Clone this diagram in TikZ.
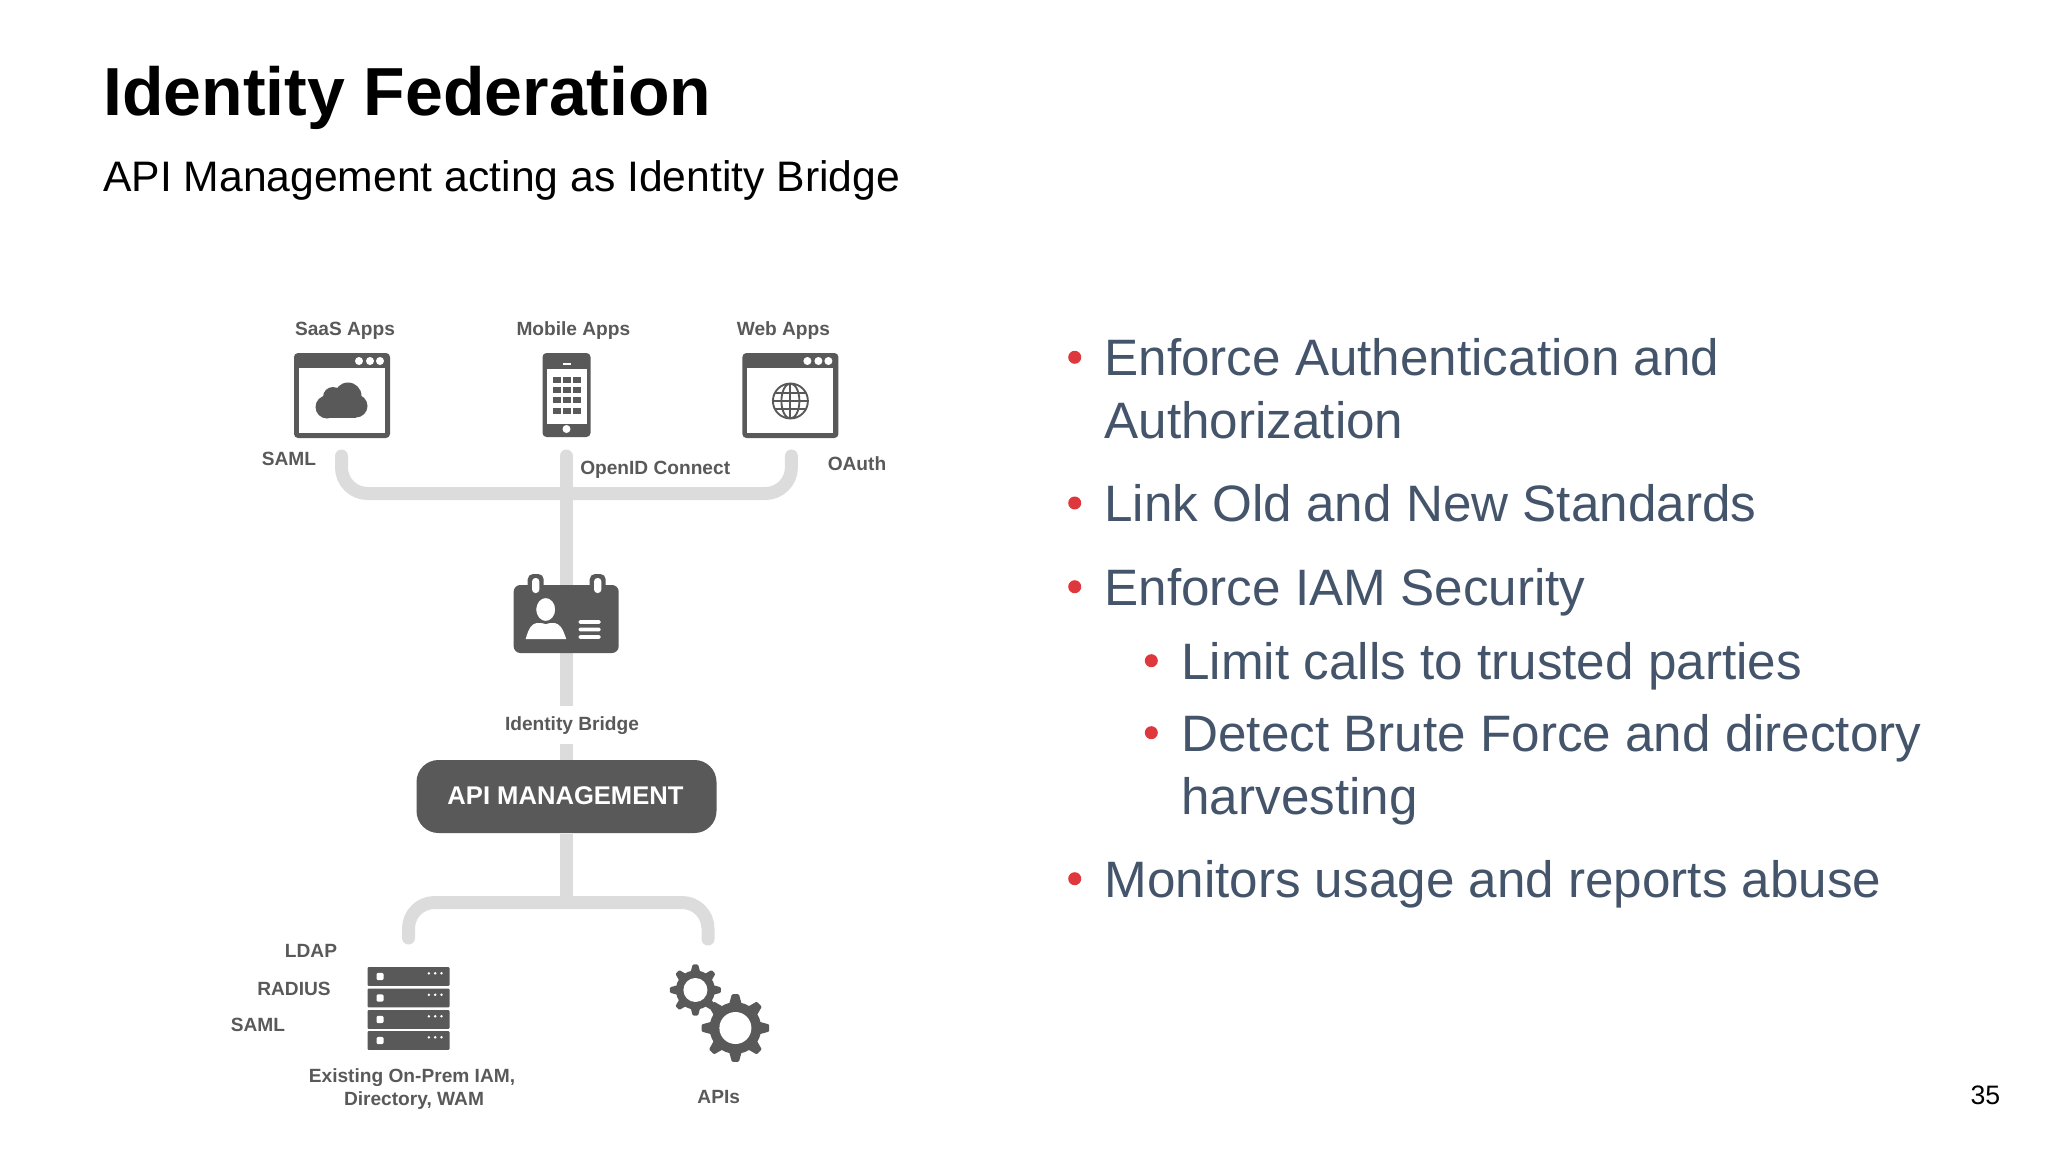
\documentclass[tikz,border=0pt]{standalone}
\usepackage{fontspec}
\setmainfont{Liberation Sans}
\usetikzlibrary{backgrounds}

\definecolor{icongray}{RGB}{89,89,89}
\definecolor{pipegray}{RGB}{220,220,220}
\definecolor{slatetext}{RGB}{68,84,106}
\definecolor{bulletred}{RGB}{222,56,60}

\tikzset{every picture/.style={line width=0.75pt}}
\tikzset{
  pipe/.style={draw=pipegray,line width=9.75pt,line cap=round},
  applabel/.style={anchor=base,inner sep=0.75pt,text=icongray,font=\fontsize{14.35}{17}\selectfont\bfseries},
  bulletlabel/.style={anchor=base west,inner sep=0pt,text=slatetext,font=\fontsize{38.4}{46}\selectfont},
  bulletdot/.style={circle,fill=bulletred,inner sep=0pt,minimum size=9.75pt},
  windowbox/.style={fill=icongray,rounded corners=3pt,inner sep=0pt,minimum width=72pt,minimum height=63.75pt},
  rackrow/.style={fill=icongray,rounded corners=0.8pt,inner sep=0pt,minimum width=61.5pt,minimum height=14.2pt},
}

% browser window body with its three dots and white pane
\newcommand{\windowicon}[2]{
  \begin{scope}[shift={(#1,#2)}]
    \fill [white] (-43,-27.5) rectangle (43,37.5) ;
    \foreach \dx in {17,28,38} { \fill [white] (\dx,-34.5) circle (4) ; }
  \end{scope}
}
% gear: hub, eight teeth, hole
\newcommand{\gearicon}[4]{
  \begin{scope}[shift={(#1,#2)}]
    \fill [icongray] (0,0) circle ({0.76*#3}) ;
    \foreach \a in {90,135,...,405} {
      \fill [icongray,rounded corners=0.8pt] (\a-15:{0.72*#3}) -- (\a-6:#3) -- (\a+6:#3) -- (\a+15:{0.72*#3}) -- cycle ;
    }
    \fill [white] (0,0) circle (#4) ;
  \end{scope}
}

\begin{document}
\begin{tikzpicture}[x=0.75pt,y=0.75pt,yscale=-1,xscale=1]
\useasboundingbox (0,0) rectangle (2048,1152);

% Title
\draw (102.7,116) node (title) [anchor=base west,inner sep=0pt,font=\fontsize{51}{60}\selectfont\bfseries] {Identity Federation};
\draw (102.7,191) node (subtitle) [anchor=base west,inner sep=0pt,font=\fontsize{32}{38}\selectfont] {API Management acting as Identity Bridge};

% App icons
\node (saas) [windowbox] at (342,395.5) {};
\windowicon{342}{395.5}
\fill [icongray] (327,407) circle (11.5) (333,397) circle (10) (348,396) circle (13.5) (356,406) circle (11.5) ;
\fill [icongray] (327,402) rectangle (356,417.5) ;

\node (web) [windowbox] at (790.4,395.5) {};
\windowicon{790.4}{395.5}
\begin{scope}
  \clip (790.4,401) circle (18);
  \draw [icongray,line width=1.4pt] (772,393) -- (809,393) (772,401) -- (809,401) (772,409) -- (809,409) (790.4,383) -- (790.4,419) ;
\end{scope}
\draw [icongray,line width=1.4pt] (790.4,401) circle (17.5) (790.4,401) ellipse (9 and 17.5) ;

\node (mobile) [fill=icongray,rounded corners=3pt,inner sep=0pt,minimum width=36pt,minimum height=63pt] at (566.5,395) {};
\fill [white] (546.5,369) rectangle (586.5,424) ;
\fill [white] (562.5,363) rectangle (570.5,365) ;
\fill [white] (566.5,429) circle (4) ;
\foreach \col in {557,566.5,576.5} {
  \foreach \row in {380,390,400,411} {
    \fill [icongray] (\col-4,\row-3.2) rectangle (\col+4,\row+3.2) ;
  }
}

% Badge
\node (badge) [fill=icongray,rounded corners=5pt,inner sep=0pt,minimum width=78.75pt,minimum height=51pt] at (566.2,619) {};
\foreach \cx in {535.7,597.7} {
  \fill [icongray,rounded corners=4pt] (\cx-8,574) rectangle (\cx+8,595) ;
  \fill [white,rounded corners=2.5pt] (\cx-3.6,578) rectangle (\cx+3.6,593) ;
}
\fill [white] (525.7,639) .. controls (528.7,628) and (531.7,624) .. (536.7,623) -- (554.7,623) .. controls (559.7,624) and (562.7,628) .. (566.2,639) -- cycle ;
\draw [icongray,fill=white,line width=2.2pt] (545.7,609.5) ellipse (11 and 13) ;
\foreach \ly in {622,629.5,637} {
  \fill [white,rounded corners=1pt] (578.7,\ly-1.8) rectangle (600.7,\ly+1.8) ;
}

% API Management
\node (apimgmt) [fill=icongray,rounded corners=16.5pt,inner sep=0pt,minimum width=225pt,minimum height=54.75pt] at (566.5,796.5) {};
\draw (565.5,804) node (apitext) [anchor=base,inner sep=0pt,text=white,font=\fontsize{19.2}{23}\selectfont\bfseries] {API MANAGEMENT};

% Server rack
\foreach \rowy [count=\i] in {976.5,998,1019.5,1040.5} {
  \node (rack\i) [rackrow] at (408.5,\rowy) {};
  \fill [white,rounded corners=1pt] (376.5,\rowy-3.6) rectangle (383.5,\rowy+3.6) ;
  \foreach \dx in {428.9,435.2,441.5} { \fill [white] (\dx,\rowy-3.2) circle (1.4) ; }
}

% Gears
\gearicon{695.4}{990}{25.7}{12}
\gearicon{735.4}{1028}{34}{16}

% Text Node
\draw (345,335) node (saaslabel) [applabel] {SaaS Apps};
\draw (573.4,335) node (mobilelabel) [applabel] {Mobile Apps};
\draw (783.4,335) node (weblabel) [applabel] {Web Apps};
\draw (289,465) node (samltop) [applabel] {SAML};
\draw (655.2,474) node (openid) [applabel] {OpenID Connect};
\draw (857,470) node (oauth) [applabel] {OAuth};
\draw (572,730) node (bridgelabel) [applabel,fill=white,inner ysep=7.5pt] {Identity Bridge};
\draw (311,957) node (ldap) [applabel] {LDAP};
\draw (294,995) node (radius) [applabel] {RADIUS};
\draw (258,1031) node (samlbottom) [applabel] {SAML};
\draw (412,1082) node (existing) [applabel] {Existing On-Prem IAM,};
\draw (414,1105) node (existingb) [applabel] {Directory, WAM};
\draw (718.7,1103) node (apislabel) [applabel] {APIs};

% Connector ends
\coordinate (saasend) at (341.5,456);
\coordinate (mobileend) at (566,456);
\coordinate (webend) at (791.4,456);
\coordinate (tophub) at (566,493.5);
\coordinate (rackend) at (408.5,938);
\coordinate (apisend) at (708,939);
\coordinate (bottomhub) at (566,902.5);

%Straight Lines
\begin{scope}[on background layer]
\draw [pipe,rounded corners=19.5pt] (saasend) |- (tophub) -| (webend) ;
\draw [pipe] (mobileend) -- (apimgmt.north -| mobileend) ;
\draw [pipe,line cap=butt] (apimgmt.south -| bottomhub) -- (bottomhub) ;
\draw [pipe,rounded corners=19.5pt] (rackend) |- (bottomhub) -| (apisend) ;
\end{scope}

% Bullets
\node (dota) [bulletdot] at (1074.7,357.3) {};
\draw (1104,375) node (itema) [bulletlabel] {Enforce Authentication and};
\draw (1104,438.3) node (itemab) [bulletlabel] {Authorization};
\node (dotb) [bulletdot] at (1074.7,503) {};
\draw (1104,521) node (itemb) [bulletlabel] {Link Old and New Standards};
\node (dotc) [bulletdot] at (1074.7,586.7) {};
\draw (1104,605) node (itemc) [bulletlabel] {Enforce IAM Security};
\node (dotd) [bulletdot] at (1151.3,660.7) {};
\draw (1181,679) node (itemd) [bulletlabel] {Limit calls to trusted parties};
\node (dote) [bulletdot] at (1151.3,732.7) {};
\draw (1181,751) node (iteme) [bulletlabel] {Detect Brute Force and directory};
\draw (1181,814.5) node (itemeb) [bulletlabel] {harvesting};
\node (dotf) [bulletdot] at (1074.7,878.7) {};
\draw (1104,897.5) node (itemf) [bulletlabel] {Monitors usage and reports abuse};

% Page number
\draw (2010,1104) node (pagenum) [anchor=base east,inner sep=0pt,font=\fontsize{20}{24}\selectfont,xshift=-6.9pt] {35};

\end{tikzpicture}
\end{document}
